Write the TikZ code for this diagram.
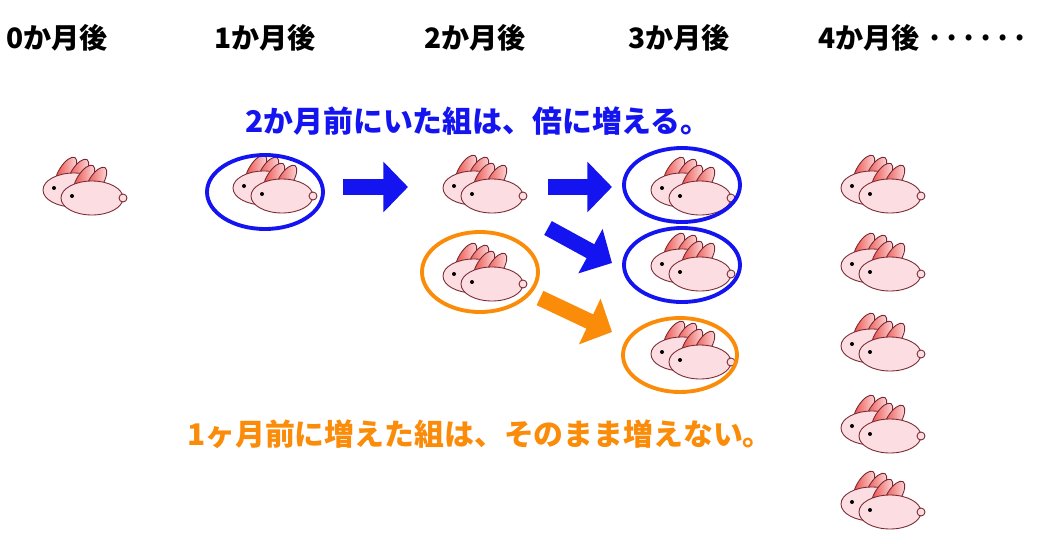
\documentclass[tikz,border=0pt]{standalone}
\usepackage{fontspec}
\setmainfont{Noto Sans CJK JP}
\usetikzlibrary{arrows.meta,positioning}
\definecolor{bunnypink}{RGB}{252,222,226}
\definecolor{bunnyred}{RGB}{235,70,60}
\definecolor{bunnyline}{RGB}{120,40,50}
\definecolor{groupblue}{RGB}{20,20,240}
\definecolor{grouporange}{RGB}{250,140,10}

\tikzset{
   month/.style = {font=\fontsize{16}{19}\selectfont\bfseries, anchor=west},
   note/.style = {font=\fontsize{17}{20}\selectfont\bfseries},
   doubled/.style = {draw=groupblue, line width=2.2pt},
   kept/.style = {draw=grouporange, line width=2.2pt},
   growarrow/.style = {line width=9pt, -{Triangle[length=14pt,width=28pt]}},
   pics/bunny/.style = {code={
      \draw[bunnyline, line width=0.5pt, left color=bunnyred, right color=bunnypink,
            rotate around={-32:(-2,-12)}] (-2,-12) ellipse (7 and 17);
      \draw[bunnyline, line width=0.5pt, left color=bunnyred, right color=bunnypink,
            rotate around={-32:(10,-10)}] (10,-10) ellipse (7 and 17);
      \draw[bunnyline, line width=0.5pt, fill=bunnypink] (6,6) ellipse (31 and 17);
      \draw[bunnyline, line width=0.5pt, fill=bunnypink] (37,6) circle (4);
      \fill[black] (-14,4) circle (2);
   }},
   pics/pair/.style = {code={
      \pic at (-10,-4) {bunny};
      \pic at (8,4) {bunny};
   }}
}

\begin{document}
\begin{tikzpicture}[x=0.02cm, y=-0.02cm]
   \useasboundingbox (0,0) rectangle (1052,548);

   % months
   \node[month] (m0) at (0,38)   {0か月後};
   \node[month] (m1) at (208,38) {1か月後};
   \node[month] (m2) at (418,38) {2か月後};
   \node[month] (m3) at (622,38) {3か月後};
   \node[month] (m4) at (812,38) {4か月後 ······};

   % rabbits
   \pic at (78,188)  {pair};
   \pic at (268,186) {pair};
   \pic at (478,186) {pair};
   \pic at (478,274) {pair};
   \foreach \y in {188,264,352}
      \pic at (686,\y) {pair};
   \foreach \y in {186,264,344,426,502}
      \pic at (876,\y) {pair};

   % groups
   \draw[doubled] (265,192) ellipse (58 and 37);
   \draw[doubled] (682,185) ellipse (58 and 37);
   \draw[doubled] (682,265) ellipse (58 and 37);
   \draw[kept]    (480,272) ellipse (58 and 40);
   \draw[kept]    (680,355) ellipse (57 and 37);

   % arrows
   \coordinate (a0) at (343,187);  \coordinate (a1) at (408,187);
   \coordinate (b0) at (548,187);  \coordinate (b1) at (612,187);
   \coordinate (c0) at (548,228);  \coordinate (c1) at (612,263);
   \coordinate (d0) at (540,298);  \coordinate (d1) at (612,332);
   \draw[growarrow, groupblue]   (a0) -- (a1);
   \draw[growarrow, groupblue]   (b0) -- (b1);
   \draw[growarrow, groupblue]   (c0) -- (c1);
   \draw[growarrow, grouporange] (d0) -- (d1);

   % notes
   \node[note, text=groupblue]   (n1) at (478,121) {2か月前にいた組は、倍に増える。};
   \node[note, text=grouporange] (n2) at (480,434) {1ヶ月前に増えた組は、そのまま増えない。};
\end{tikzpicture}
\end{document}
